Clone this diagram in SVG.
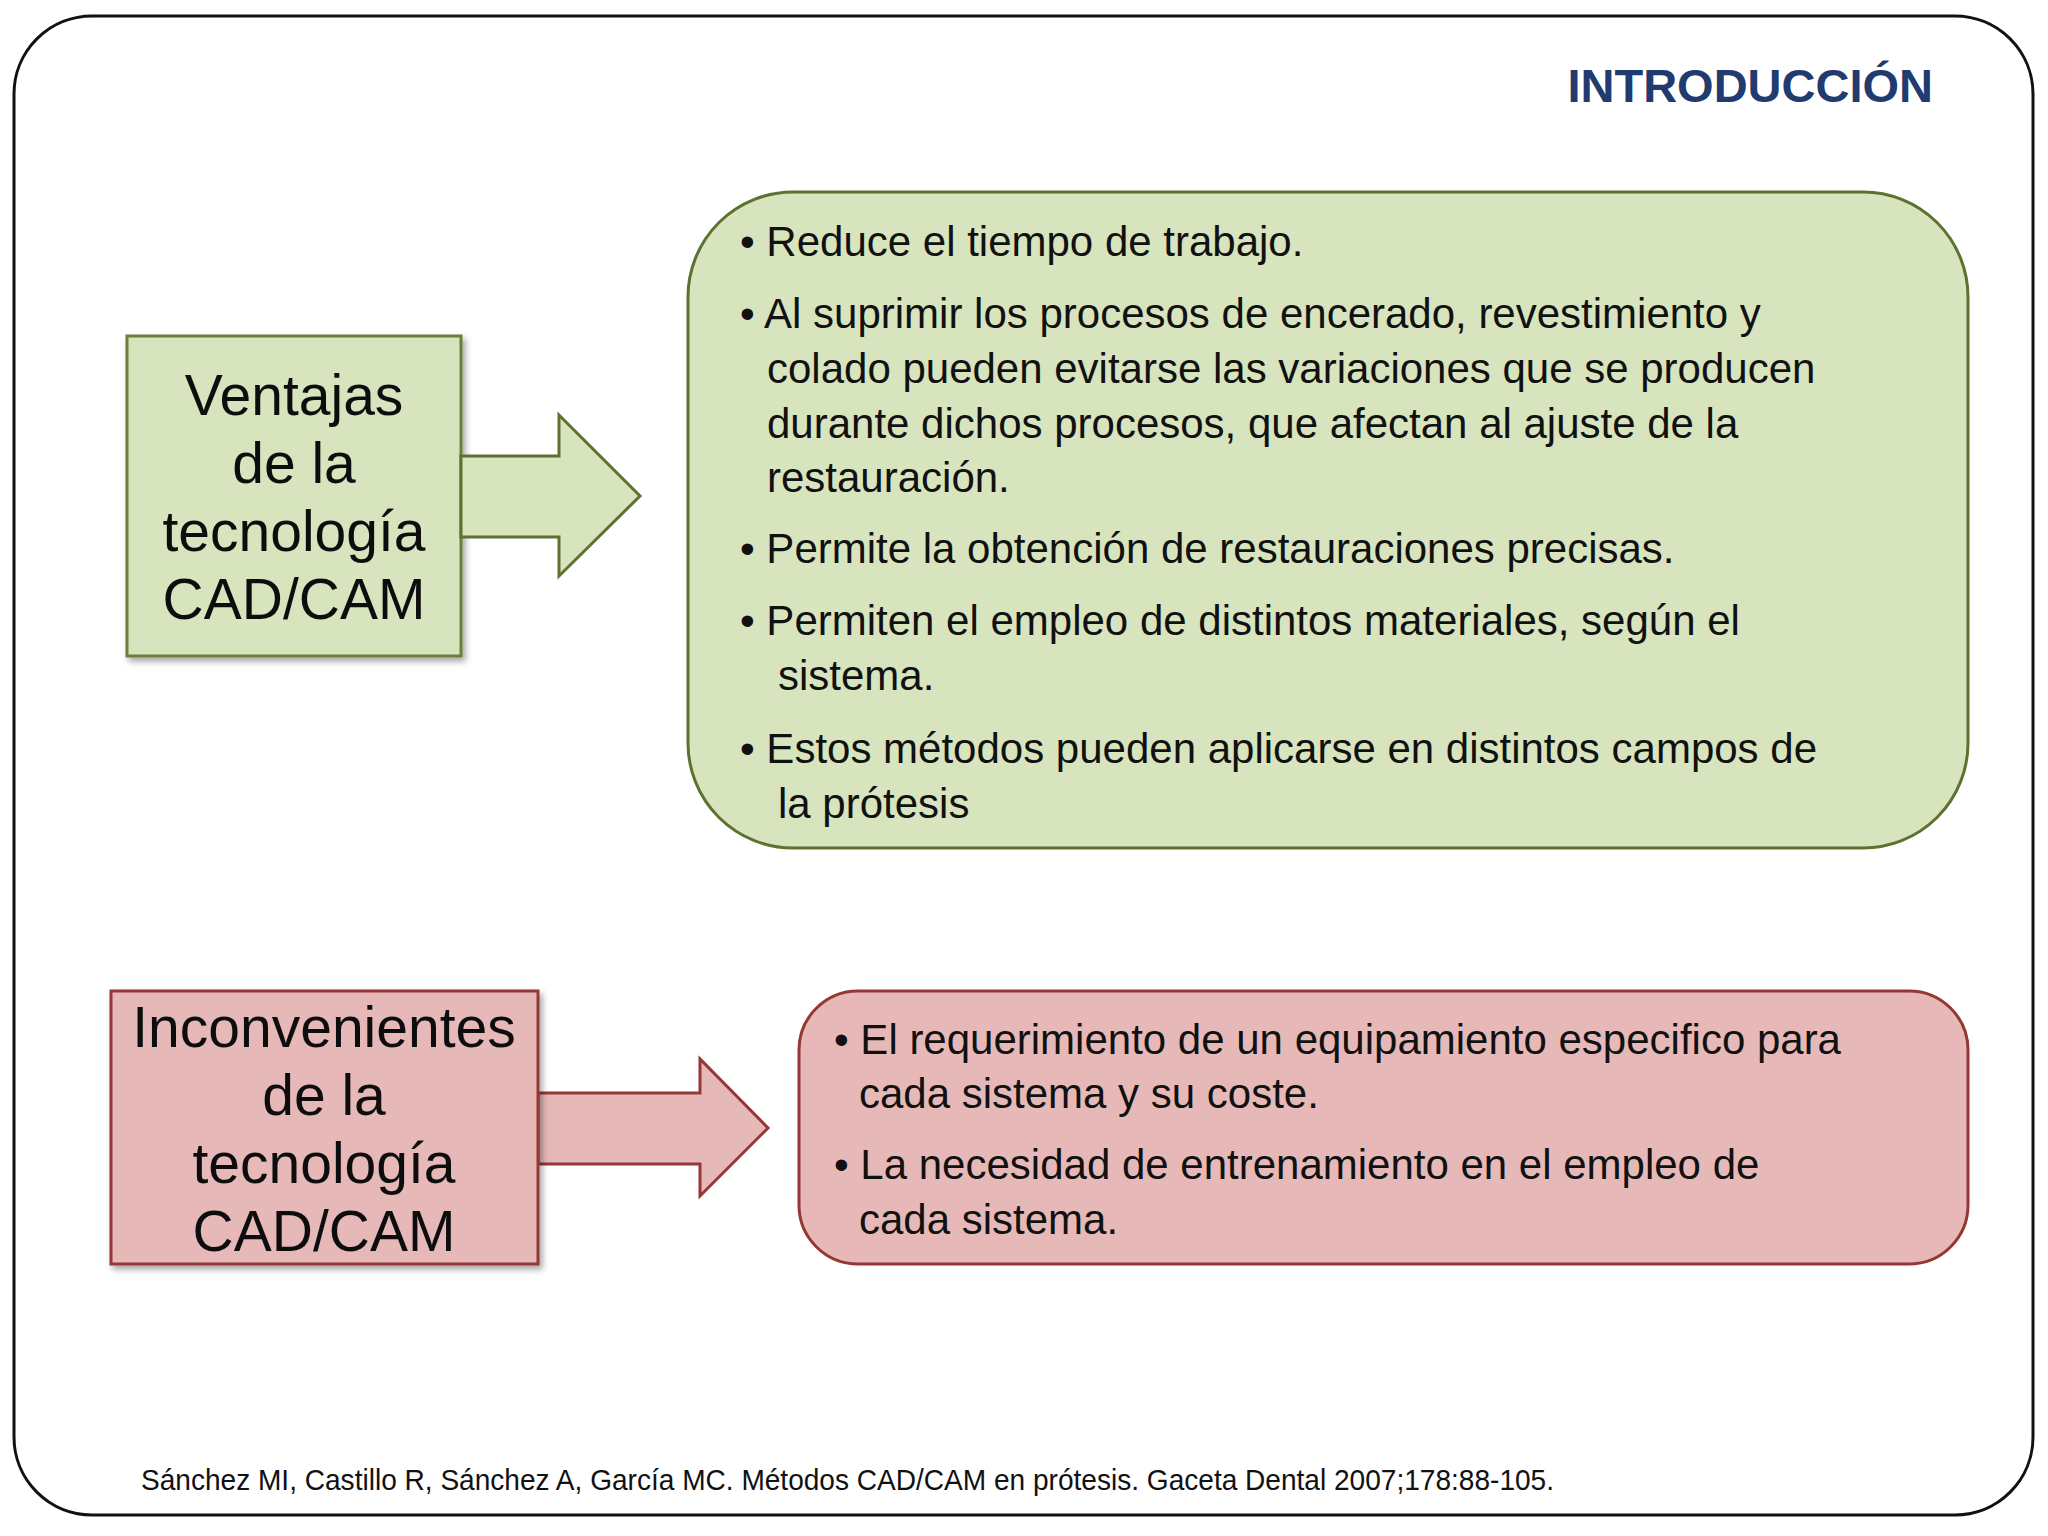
<svg xmlns="http://www.w3.org/2000/svg" width="2048" height="1536" viewBox="0 0 2048 1536">
<defs>
<style>
.t{font-family:"Liberation Sans",Arial,sans-serif;fill:#111}
.big{font-size:57px;text-anchor:middle}
.b{font-size:42px}
.p{font-size:42px}
</style>
<filter id="sh" x="-10%" y="-10%" width="130%" height="130%"><feDropShadow dx="3" dy="4" stdDeviation="3" flood-color="#000" flood-opacity="0.35"/></filter>
</defs>
<rect width="2048" height="1536" fill="#fff"/>
<rect x="14" y="16" width="2019" height="1499" rx="78" fill="#fff" stroke="#111" stroke-width="3"/>
<text x="1933" y="102" class="t" style="font-size:47px;font-weight:bold;fill:#1f3b70;text-anchor:end">INTRODUCCIÓN</text>
<g id="ventajas" filter="url(#sh)">
<rect x="127" y="336" width="334" height="320" fill="#d7e4bd" stroke="#6b7f3a" stroke-width="3"/>
<text class="t big"><tspan x="294" y="415">Ventajas</tspan><tspan x="294" y="483">de la</tspan><tspan x="294" y="551">tecnología</tspan><tspan x="294" y="619">CAD/CAM</tspan></text>
</g>
<g id="connectors">
<polygon points="461,456 559,456 559,415 640,496 559,576 559,537 461,537" fill="#d7e4bd" stroke="#5e7130" stroke-width="3"/>
<polygon points="538,1093 700,1093 700,1059 768,1128 700,1196 700,1164 538,1164" fill="#e6b9b8" stroke="#953735" stroke-width="3"/>
</g>
<g id="ventajas-list">
<rect x="688" y="192" width="1280" height="656" rx="105" fill="#d7e4bd" stroke="#5e7130" stroke-width="3"/>
<text class="t p">
<tspan x="740" y="256">• Reduce el tiempo de trabajo.</tspan>
<tspan x="740" y="328">• Al suprimir los procesos de encerado, revestimiento y</tspan>
<tspan x="767" y="383">colado pueden evitarse las variaciones que se producen</tspan>
<tspan x="767" y="438">durante dichos procesos, que afectan al ajuste de la</tspan>
<tspan x="767" y="492">restauración.</tspan>
<tspan x="740" y="563">• Permite la obtención de restauraciones precisas.</tspan>
<tspan x="740" y="635">• Permiten el empleo de distintos materiales, según el</tspan>
<tspan x="778" y="690">sistema.</tspan>
<tspan x="740" y="763">• Estos métodos pueden aplicarse en distintos campos de</tspan>
<tspan x="778" y="818">la prótesis</tspan>
</text>
</g>
<g id="inconvenientes" filter="url(#sh)">
<rect x="111" y="991" width="427" height="273" fill="#e6b9b8" stroke="#953735" stroke-width="3"/>
<text class="t big"><tspan x="324" y="1047">Inconvenientes</tspan><tspan x="324" y="1115">de la</tspan><tspan x="324" y="1183">tecnología</tspan><tspan x="324" y="1251">CAD/CAM</tspan></text>
</g>
<g id="inconvenientes-list">
<rect x="799" y="991" width="1169" height="273" rx="59" fill="#e6b9b8" stroke="#953735" stroke-width="3"/>
<text class="t p">
<tspan x="834" y="1054">• El requerimiento de un equipamiento especifico para</tspan>
<tspan x="859" y="1108">cada sistema y su coste.</tspan>
<tspan x="834" y="1179">• La necesidad de entrenamiento en el empleo de</tspan>
<tspan x="859" y="1234">cada sistema.</tspan>
</text>
</g>
<text x="141" y="1490" class="t" style="font-size:30px" textLength="1413" lengthAdjust="spacingAndGlyphs">Sánchez MI, Castillo R, Sánchez A, García MC. Métodos CAD/CAM en prótesis. Gaceta Dental 2007;178:88-105.</text>
</svg>
